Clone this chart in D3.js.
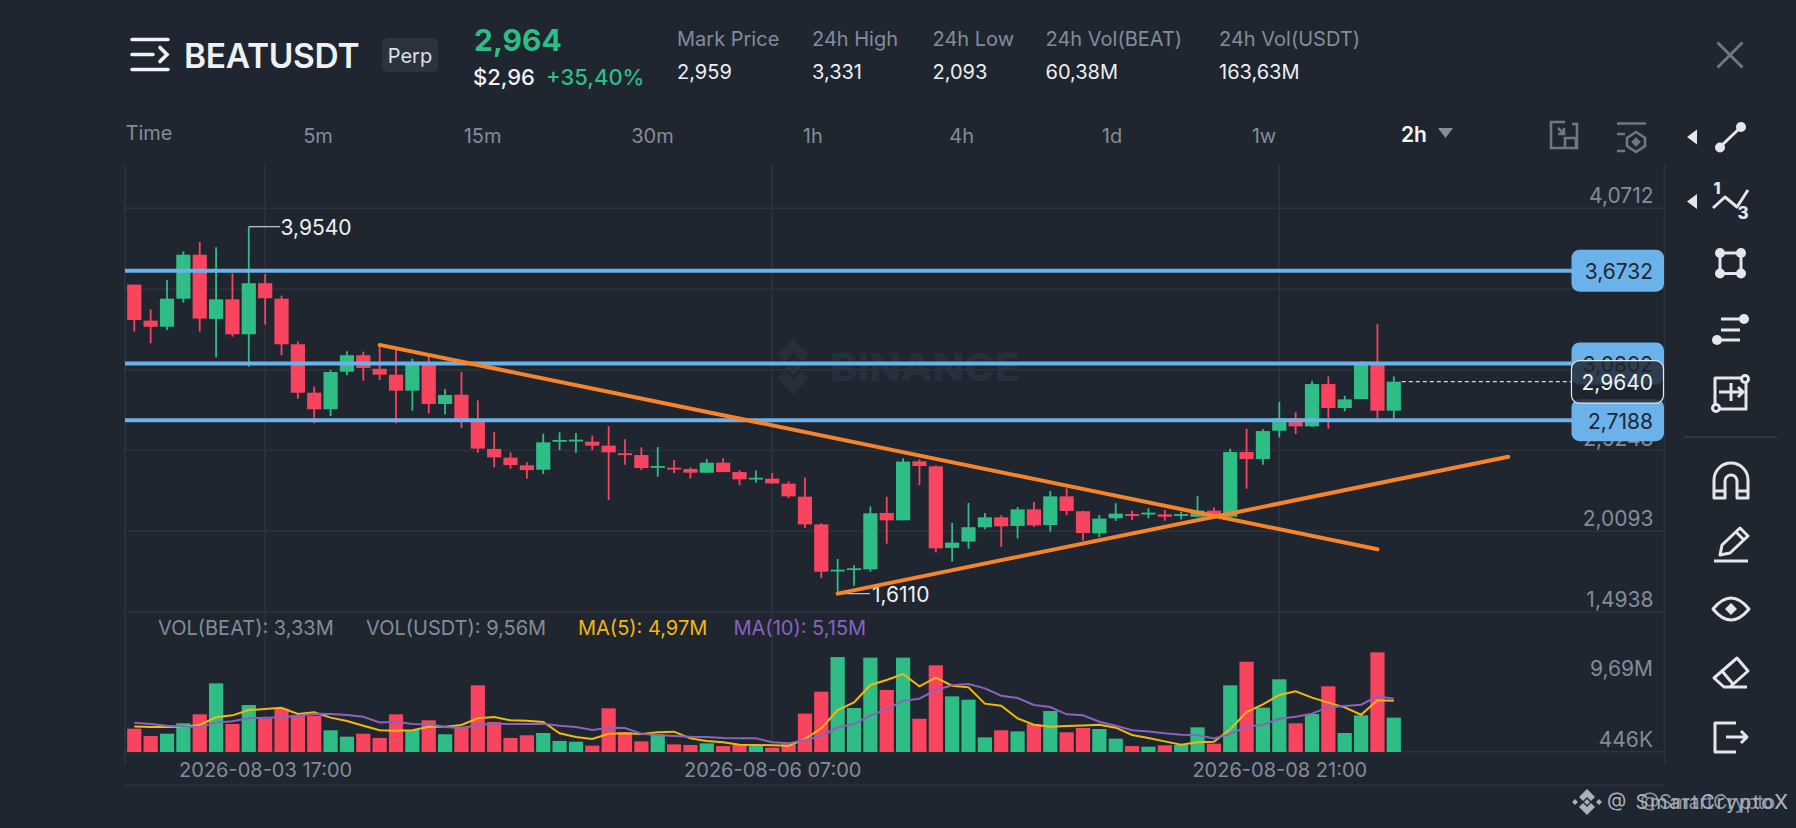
<!DOCTYPE html>
<html><head><meta charset="utf-8">
<script src="https://cdn.jsdelivr.net/npm/d3@7/dist/d3.min.js"></script>
<style>html,body{margin:0;padding:0;background:#1f2630;overflow:hidden}svg{display:block}text{font-family:Inter,"Noto Sans",sans-serif}</style>
</head><body><svg id="c" width="1796" height="828"></svg>
<script>
const opens=[3.584,3.354,3.315,3.494,3.775,3.365,3.490,3.267,3.593,3.494,3.203,2.894,2.788,3.028,3.133,3.047,3.009,2.907,3.071,2.822,2.881,2.715,2.535,2.479,2.430,2.402,2.581,2.583,2.581,2.556,2.507,2.496,2.417,2.415,2.407,2.383,2.447,2.387,2.343,2.345,2.313,2.230,2.053,1.753,1.764,1.766,2.126,2.079,2.456,2.424,1.903,1.943,2.035,2.098,2.043,2.149,2.049,2.232,2.137,1.996,2.092,2.119,2.117,2.117,2.107,2.102,2.141,2.102,2.515,2.470,2.651,2.730,2.679,2.949,2.796,2.853,3.081,2.779];
const highs=[3.584,3.426,3.613,3.796,3.856,3.822,3.656,3.954,3.652,3.514,3.220,2.933,3.039,3.158,3.156,3.199,3.167,3.111,3.124,2.918,3.028,2.845,2.643,2.513,2.451,2.632,2.641,2.636,2.620,2.681,2.596,2.545,2.547,2.464,2.417,2.470,2.475,2.400,2.398,2.381,2.328,2.353,2.060,1.832,1.792,2.168,2.230,2.475,2.469,2.428,2.062,2.190,2.126,2.111,2.164,2.196,2.266,2.284,2.141,2.113,2.188,2.141,2.156,2.145,2.134,2.234,2.162,2.536,2.664,2.660,2.836,2.768,2.970,2.998,2.875,3.095,3.331,2.998];
const lows=[3.284,3.209,3.294,3.469,3.284,3.120,3.252,3.060,3.329,3.133,2.856,2.699,2.745,3.005,2.971,2.975,2.699,2.779,2.762,2.754,2.668,2.511,2.417,2.409,2.345,2.375,2.528,2.511,2.528,2.209,2.434,2.400,2.358,2.381,2.347,2.383,2.387,2.304,2.319,2.311,2.221,2.030,1.711,1.611,1.662,1.751,1.930,2.079,2.304,1.875,1.815,1.898,2.022,1.909,1.964,2.037,2.007,2.111,1.949,1.971,2.075,2.081,2.092,2.077,2.085,2.098,2.098,2.098,2.281,2.434,2.607,2.630,2.677,2.664,2.775,2.853,2.730,2.730];
const closes=[3.358,3.315,3.494,3.775,3.367,3.490,3.267,3.593,3.497,3.203,2.894,2.788,3.026,3.133,3.052,3.009,2.907,3.071,2.822,2.879,2.715,2.537,2.481,2.432,2.400,2.577,2.592,2.594,2.556,2.513,2.498,2.413,2.426,2.405,2.383,2.447,2.387,2.341,2.351,2.315,2.232,2.053,1.751,1.764,1.773,2.124,2.079,2.454,2.426,1.900,1.937,2.035,2.098,2.041,2.149,2.047,2.232,2.139,1.998,2.090,2.122,2.107,2.128,2.102,2.119,2.141,2.107,2.515,2.470,2.649,2.730,2.679,2.949,2.796,2.851,3.090,2.779,2.964];
const volumes=[3.35,2.40,2.70,4.05,5.22,9.25,3.96,6.43,4.70,5.96,5.13,5.05,3.14,2.31,2.70,2.14,5.22,3.18,4.44,2.62,3.61,9.00,4.22,2.14,2.49,2.79,1.75,1.66,1.14,6.00,2.88,1.70,2.66,1.31,1.23,1.44,1.09,1.27,1.09,0.88,1.31,5.31,8.17,12.68,6.04,12.60,8.39,12.60,4.65,11.60,7.56,7.13,2.22,3.14,3.00,3.96,5.65,2.88,3.44,3.31,2.05,1.09,1.01,1.18,1.23,3.53,1.40,9.00,12.07,6.09,9.78,4.05,5.26,8.87,2.79,5.09,13.29,4.79];
const ma5=[3.65,3.57,3.57,3.61,3.83,4.83,5.09,5.78,5.91,6.08,5.26,5.48,4.79,4.35,3.74,3.14,3.09,3.14,3.61,3.61,3.83,4.70,4.87,4.44,4.39,4.22,2.75,2.27,2.01,2.70,2.75,2.66,2.88,2.96,2.09,1.75,1.58,1.27,1.23,1.18,1.14,2.01,3.40,5.78,6.78,9.04,9.69,10.47,8.87,9.99,8.95,8.73,6.61,6.35,4.70,3.87,3.61,3.70,3.78,3.87,3.48,2.53,2.14,1.70,1.27,1.58,1.66,3.27,5.52,6.52,7.74,8.21,7.39,6.74,6.13,5.17,7.04,7.00];
const ma10=[4.13,3.96,3.74,3.65,3.57,4.17,4.31,4.70,4.79,4.83,5.05,5.31,5.26,5.13,4.91,4.17,4.26,3.96,3.92,3.57,3.44,3.83,4.00,3.96,3.96,4.00,3.74,3.57,3.18,3.48,3.44,2.70,2.53,2.40,2.31,2.27,2.14,2.09,2.09,1.58,1.44,1.88,2.40,3.53,3.96,5.09,5.87,7.00,7.26,8.39,9.00,9.17,8.60,7.65,7.35,6.43,6.17,5.22,5.09,4.26,3.74,3.14,3.00,2.75,2.57,2.53,2.09,2.66,3.61,3.87,4.65,4.91,5.31,6.13,6.30,6.48,7.56,7.26];
const priceTicks=[4.0712,3.5557,3.0402,2.5248,2.0093,1.4938];
const volTicks=[0.446,9.69];
const volTickLabels=["446K","9,69M"];
const dateTicks=["2026-08-03T17:00Z","2026-08-06T07:00Z","2026-08-08T21:00Z"];
const levels=[3.6732,3.0802,2.7188];
const lastPrice=2.9640, highMark=3.9540, lowMark=1.6110;
const trendDown=[{t:"2026-08-04T07:00Z",p:3.199},{t:"2026-08-09T09:00Z",p:1.894}];
const trendUp=[{t:"2026-08-06T15:00Z",p:1.611},{t:"2026-08-10T01:00Z",p:2.485}];
const intervals=["5m","15m","30m","1h","4h","1d","1w"];
const stats=[["Mark Price","2,959"],["24h High","3,331"],["24h Low","2,093"],["24h Vol(BEAT)","60,38M"],["24h Vol(USDT)","163,63M"]];

const BG="#1f2630",GRID="#2c333f",RED="#f9445f",GREEN="#2ebd85",BLUE="#6cb2ea",ORANGE="#f5842d",YEL="#f0b90b",PUR="#8b63bd",GRAY="#848c98",WHITE="#eceef0";
const svg=d3.select("#c");
const loc=d3.formatLocale({decimal:",",thousands:".",grouping:[3],currency:["$",""]});
const f4=loc.format(".4f");
const times=opens.map((_,i)=>d3.utcHour.offset(new Date("2026-08-03T01:00Z"),2*i));
const x=d3.scaleUtc().domain([times[0],times[times.length-1]]).range([134.3,1393.8]);
const y=d3.scaleLinear().domain([priceTicks[5],priceTicks[0]]).range([612,208.3]);
const vy=d3.scaleLinear().domain(volTicks).range([751,680]);
const L=125,R=1664.5,BW=14.2,volBase=752;

function txt(s,px,py,size,fill,o={}){return svg.append("text").attr("x",px).attr("y",py).attr("font-size",size).attr("fill",fill).attr("font-weight",o.w||400).attr("text-anchor",o.a||"start").attr("dominant-baseline","central").attr("letter-spacing",o.ls||null).text(s);}

/* header */
const menu=svg.append("g").attr("stroke","#f2f3f5").attr("stroke-width",3.6).attr("stroke-linecap","round").attr("fill","none");
menu.append("path").attr("d","M132 39.5H168M132 54.5H153M132 69.5H168M160 47.5L167 54.5L160 61.5");
txt("BEATUSDT",184,55.5,33.5,"#f0f1f3",{w:600,ls:"-0.3px"});
svg.append("rect").attr("x",382).attr("y",38).attr("width",56).attr("height",34).attr("rx",5).attr("fill","#2b3240");
txt("Perp",410,55.5,20,"#dfe1e5",{a:"middle"});
txt("2,964",474,39.5,30,GREEN,{w:700});
txt("$2,96",473,77,22,"#f2f3f5",{w:500});
txt("+35,40%",546,77,22,GREEN,{w:500});
const statX=[677,812,932.5,1045.5,1219];
stats.forEach((s,i)=>{txt(s[0],statX[i],38.5,20,GRAY);txt(s[1],statX[i],72,20,WHITE);});
svg.append("path").attr("d","M1717.5 42.5L1742.5 67.5M1742.5 42.5L1717.5 67.5").attr("stroke","#6f7784").attr("stroke-width",3).attr("fill","none");

/* interval tabs */
txt("Time",125.5,132.5,20,GRAY);
const tabX=[318,482.6,652.5,812.8,961.7,1112,1264];
intervals.forEach((t,i)=>txt(t,tabX[i],135.5,20,GRAY,{a:"middle"}));
txt("2h",1414,134,21,"#f5f6f7",{a:"middle",w:600});
svg.append("path").attr("d","M1438 128H1453L1445.5 138Z").attr("fill","#848c98");
const g1=svg.append("g").attr("fill","none").attr("stroke","#6f7784").attr("stroke-width",2.6);
g1.append("path").attr("d","M1565 122H1551V148H1577V124H1572M1565 138H1576V148H1565ZM1558 128L1564 134M1558 134H1564V128");
g1.append("path").attr("d","M1617 123.5H1646M1617 134H1625M1617 151H1625M1636 132L1645 138V146L1636 152L1627 146V138Z");
g1.append("path").attr("d","M1636 139L1639 142L1636 145L1633 142Z").attr("fill","#6f7784");

/* watermark */
const wm=svg.append("g").attr("fill","#272f3b");
wm.append("path").attr("d","M793 339L809 355L802 362L793 353L784 362L777 355ZM793 394L777 378L784 371L793 380L802 371L809 378Z");
wm.append("path").attr("d","M793 359L801 367L793 375L785 367Z");
svg.append("text").attr("x",830).attr("y",367).attr("font-size",38).attr("font-weight",800).attr("fill","#272f3b").attr("dominant-baseline","central").attr("textLength",190).attr("lengthAdjust","spacingAndGlyphs").text("BINANCE");

/* grid */
const grid=svg.append("g").attr("stroke",GRID).attr("stroke-width",1.5).attr("fill","none");
priceTicks.forEach(t=>grid.append("line").attr("x1",L).attr("x2",R).attr("y1",y(t)).attr("y2",y(t)));
grid.append("line").attr("x1",L).attr("x2",R).attr("y1",751.7).attr("y2",751.7);
grid.append("line").attr("x1",L).attr("x2",R).attr("y1",785).attr("y2",785);
[L,R].forEach(v=>grid.append("line").attr("x1",v).attr("x2",v).attr("y1",164).attr("y2",765));
dateTicks.forEach(d=>{const X=x(new Date(d));grid.append("line").attr("x1",X).attr("x2",X).attr("y1",164).attr("y2",752);});

/* axes */
const ax=d3.axisLeft(y).tickValues(priceTicks).tickFormat(f4).tickSize(0);
const axG=svg.append("g").attr("transform","translate(1653.5,0)").call(ax);
axG.select(".domain").remove();
axG.selectAll("text").attr("font-size",21).attr("fill",GRAY).attr("x",0).attr("dy",null).attr("dominant-baseline","central").attr("transform","translate(0,-13)").style("font-family","Inter");
const vax=d3.axisLeft(vy).tickValues(volTicks).tickFormat((d,i)=>volTickLabels[i]).tickSize(0);
const vaxG=svg.append("g").attr("transform","translate(1653,0)").call(vax);
vaxG.select(".domain").remove();
vaxG.selectAll("text").attr("font-size",21).attr("fill",GRAY).attr("x",0).attr("dy",null).attr("dominant-baseline","central").attr("transform","translate(0,-12.5)").style("font-family","Inter");
const tax=d3.axisBottom(x).tickValues(dateTicks.map(d=>new Date(d))).tickFormat(d3.utcFormat("%Y-%m-%d %H:%M")).tickSize(0);
const taxG=svg.append("g").attr("transform","translate(0,770)").call(tax);
taxG.select(".domain").remove();
taxG.selectAll("text").attr("font-size",20).attr("fill",GRAY).attr("y",0).attr("dy",null).attr("dominant-baseline","central").style("font-family","Inter");

/* candles */
const color=i=>closes[i]>=opens[i]?GREEN:RED;
const cg=svg.append("g");
cg.selectAll("line").data(times).join("line").attr("x1",d=>x(d)).attr("x2",d=>x(d)).attr("y1",(d,i)=>y(highs[i])).attr("y2",(d,i)=>y(lows[i])).attr("stroke",(d,i)=>color(i)).attr("stroke-width",1.8);
cg.selectAll("rect").data(times).join("rect").attr("x",d=>x(d)-BW/2).attr("width",BW).attr("y",(d,i)=>y(Math.max(opens[i],closes[i]))).attr("height",(d,i)=>Math.max(1.8,Math.abs(y(opens[i])-y(closes[i])))).attr("fill",(d,i)=>color(i));

/* volume */
svg.append("g").selectAll("rect").data(times).join("rect").attr("x",d=>x(d)-BW/2).attr("width",BW).attr("y",(d,i)=>vy(volumes[i])).attr("height",(d,i)=>volBase-vy(volumes[i])).attr("fill",(d,i)=>color(i));
const ln=d3.line().x((d,i)=>x(times[i])).y(d=>vy(d));
svg.append("path").attr("d",ln(ma5)).attr("fill","none").attr("stroke",YEL).attr("stroke-width",2);
svg.append("path").attr("d",ln(ma10)).attr("fill","none").attr("stroke",PUR).attr("stroke-width",2);
txt("VOL(BEAT): 3,33M",158,628,20,GRAY);
txt("VOL(USDT): 9,56M",366,628,20,GRAY);
txt("MA(5): 4,97M",578,628,20,YEL);
txt("MA(10): 5,15M",733.5,628,20,PUR);

/* high / low marks */
const hx=x(times[lows.length-71]), hy=y(highMark);
svg.append("line").attr("x1",hx).attr("x2",280).attr("y1",hy).attr("y2",hy).attr("stroke","#b9bcc2").attr("stroke-width",1.3);
txt("3,9540",280.5,hy+.5,21,"#f0f1f3");
const lx=x(times[43]), ly=y(lowMark);
svg.append("line").attr("x1",lx).attr("x2",870).attr("y1",ly).attr("y2",ly).attr("stroke","#b9bcc2").attr("stroke-width",1.3);
txt("1,6110",872,ly+.5,21,"#f0f1f3");

/* levels */
levels.forEach(p=>svg.append("line").attr("x1",L).attr("x2",1572).attr("y1",y(p)).attr("y2",y(p)).attr("stroke",BLUE).attr("stroke-width",4));
levels.forEach(p=>{svg.append("rect").attr("x",1571.5).attr("y",y(p)-21).attr("width",92.5).attr("height",42).attr("rx",8).attr("fill",BLUE);
 txt(f4(p),1653,y(p)+1,21,"#1f2630",{a:"end"});});

/* trend lines */
const tl=d3.line().x(d=>x(new Date(d.t))).y(d=>y(d.p));
[trendDown,trendUp].forEach(t=>svg.append("path").attr("d",tl(t)).attr("fill","none").attr("stroke",ORANGE).attr("stroke-width",4).attr("stroke-linecap","round"));

/* last price */
svg.append("line").attr("x1",x(times[77])+8).attr("x2",1571).attr("y1",y(lastPrice)).attr("y2",y(lastPrice)).attr("stroke","#d7d9dd").attr("stroke-width",1.2).attr("stroke-dasharray","4 3");
svg.append("rect").attr("x",1571.5).attr("y",y(lastPrice)-21).attr("width",92).attr("height",42.5).attr("rx",8).attr("fill",BG).attr("fill-opacity",.82).attr("stroke","#e6e8ea").attr("stroke-width",1.2);
txt(f4(lastPrice),1653,y(lastPrice)+1,21,"#f2f3f5",{a:"end"});

/* toolbar */
const ic="#e4e6e9";
[137,201.5].forEach(c=>svg.append("path").attr("d",`M1697 ${c-7.5}V${c+7.5}L1687 ${c}Z`).attr("fill",ic));
const tb=svg.append("g").attr("fill","none").attr("stroke",ic).attr("stroke-width",3).attr("stroke-linejoin","round");
const dot=(a,b,r=5)=>tb.append("circle").attr("cx",a).attr("cy",b).attr("r",r).attr("fill",ic).attr("stroke","none");
tb.append("path").attr("d","M1720 147L1741 127");dot(1720,147.5);dot(1741,127);
tb.append("path").attr("d","M1713 208L1725 197L1737 207L1748 190");
txt("1",1717,188,16,ic,{a:"middle",w:800});txt("3",1743,213,17,ic,{a:"middle",w:800});
tb.append("rect").attr("x",1720).attr("y",253).attr("width",21).attr("height",20.5);dot(1720,253);dot(1741,253);dot(1720,273.5);dot(1741,273.5);
tb.append("path").attr("d","M1721 319H1740M1721 330H1740M1717 340H1740");dot(1744,319);dot(1717,340);
tb.append("path").attr("d","M1741 378H1715V404M1746 383V409H1720M1719 392H1743M1731 383V401M1738 387L1743 392L1738 397");
tb.append("circle").attr("cx",1745).attr("cy",379).attr("r",3.5);tb.append("circle").attr("cx",1716).attr("cy",408).attr("r",3.5);
svg.append("line").attr("x1",1684).attr("x2",1777).attr("y1",437).attr("y2",437).attr("stroke","#3a404c").attr("stroke-width",1.5);
tb.append("path").attr("d","M1714 498V480A17 17 0 0 1 1748 480V498H1737V481A6 6 0 0 0 1725 481V498ZM1714 491H1725M1737 491H1748");
tb.append("path").attr("d","M1714 561H1748M1720 555L1722 545L1740 528L1748 536L1730 553ZM1736 532L1744 540");
tb.append("path").attr("d","M1713 609Q1731 587 1749 609Q1731 631 1713 609Z");
svg.append("path").attr("d","M1731 603L1737 609L1731 615L1725 609Z").attr("fill",ic);
tb.append("path").attr("d","M1714 678L1737 658L1748 671L1730 687H1724ZM1722 671L1733 684M1730 687H1747");
tb.append("path").attr("d","M1736 723H1715V752H1736M1726 737H1747M1741 731L1747 737L1741 743");

/* author mark */
const wmk="#aab0b8";
svg.append("path").attr("d","M1587 789L1595 797L1591 801L1587 797L1583 801L1579 797ZM1587 815L1579 807L1583 803L1587 807L1591 803L1595 807ZM1587 799L1590 802L1587 805L1584 802ZM1575 799L1578 802L1575 805L1572 802ZM1599 799L1602 802L1599 805L1596 802Z").attr("fill",wmk);
svg.append("text").attr("x",1607).attr("y",802).attr("font-size",20).attr("fill",wmk).attr("dominant-baseline","central").attr("textLength",181).text("@ SmartCryptoX");
svg.append("text").attr("x",1640).attr("y",802).attr("font-size",20).attr("fill",wmk).attr("fill-opacity",.8).attr("dominant-baseline","central").attr("textLength",148).text("@SmartCryptoX");
</script></body></html>
